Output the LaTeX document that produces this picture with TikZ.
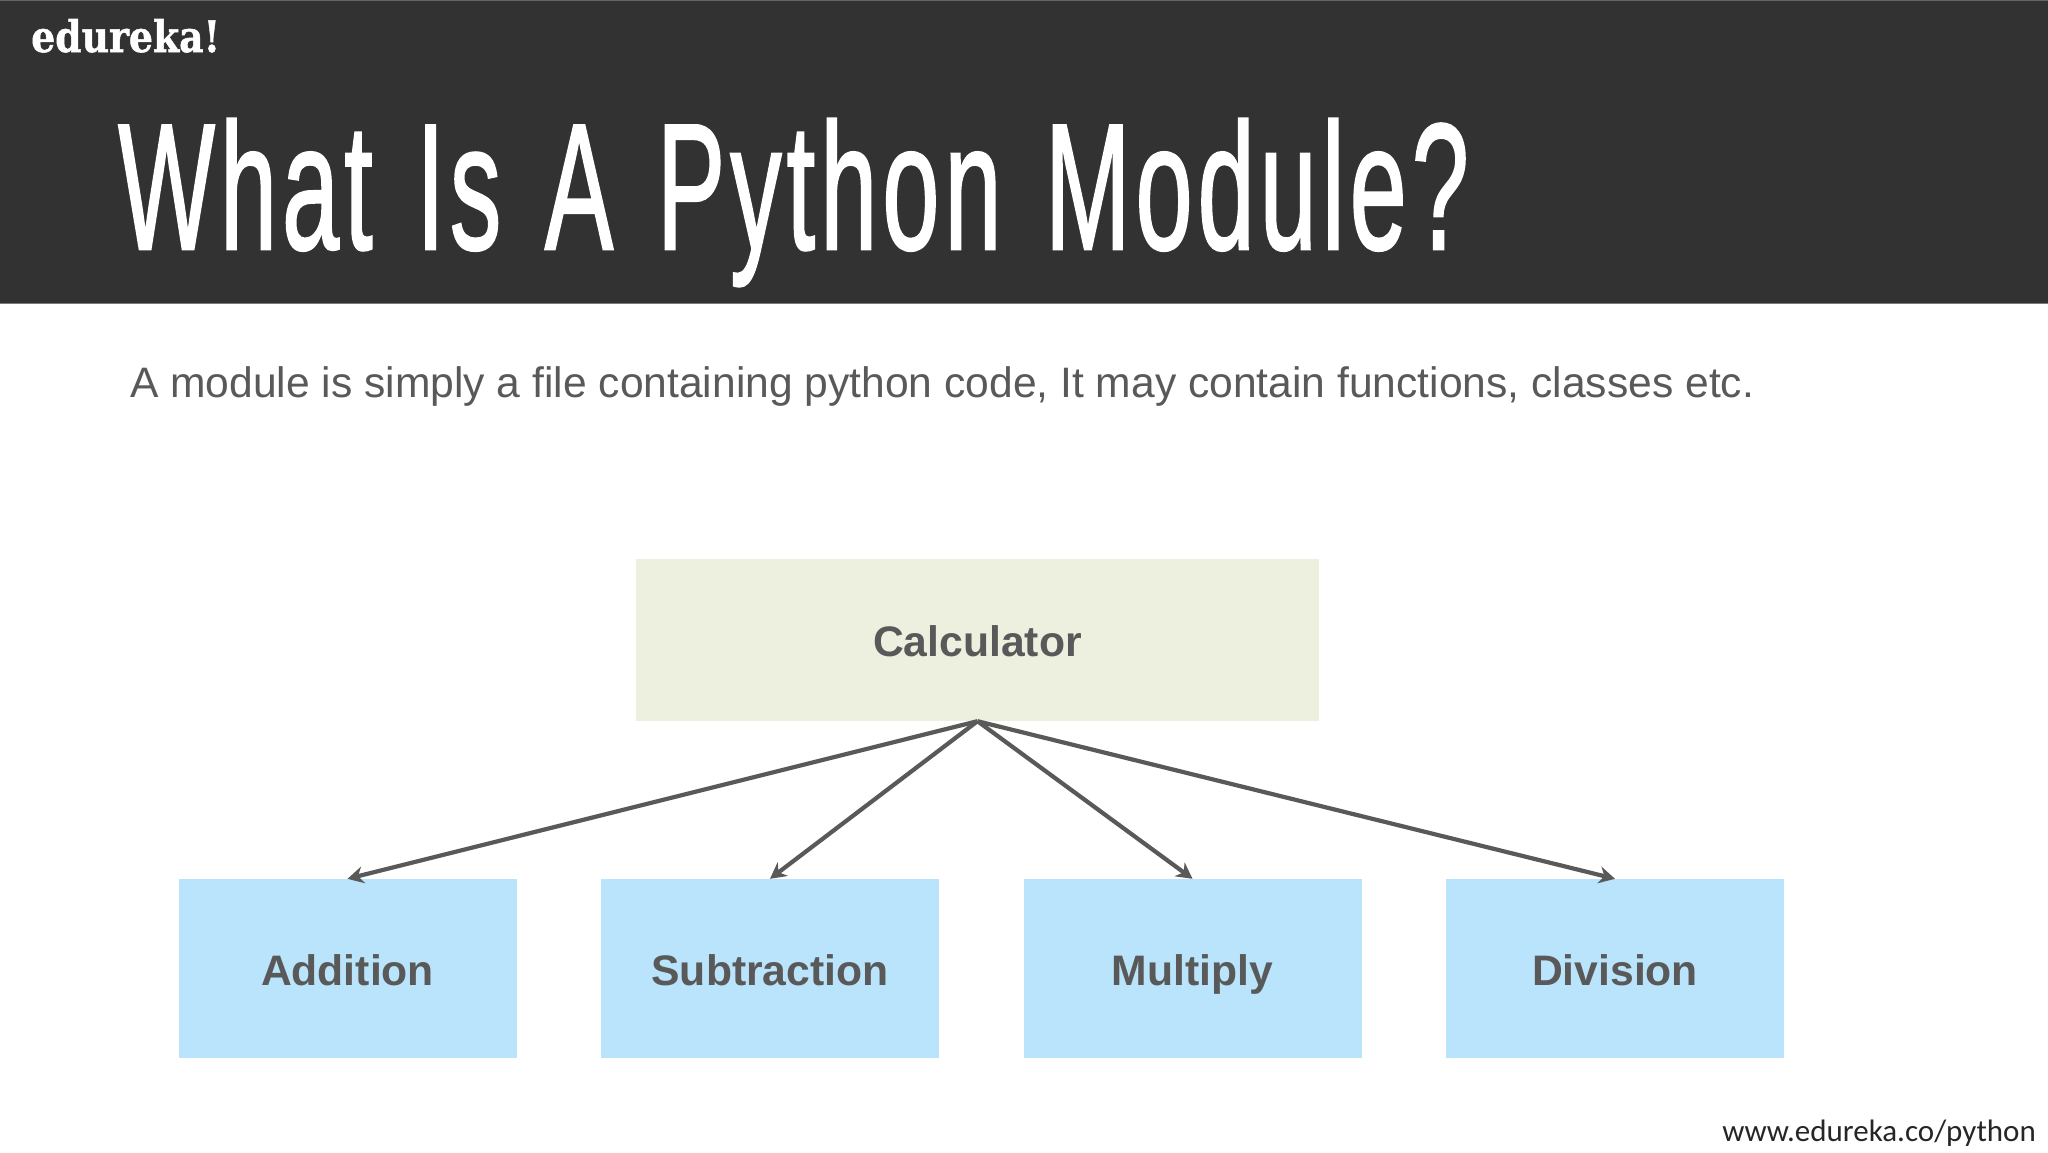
\documentclass[tikz,border=0pt]{standalone}
\usepackage{fontspec}
\usepackage{graphicx}
\setmainfont{Liberation Sans}
\newfontfamily\logofont[FakeBold=1.2]{DejaVu Serif}
\newfontfamily\urlfont{Carlito}
\newfontfamily\titlefont[LetterSpace=5,WordSpace=1.3,FakeBold=1.5]{Liberation Sans}
\usetikzlibrary{arrows.meta}
\definecolor{headbg}{HTML}{323232}
\definecolor{headedge}{HTML}{7A7A7A}
\definecolor{inktext}{HTML}{595959}
\definecolor{topfill}{HTML}{EDEFDF}
\definecolor{leaffill}{HTML}{BAE4FB}
\tikzset{
  x=1pt,y=-1pt,
  boxlabel/.style={inner sep=0pt,text=inktext,text height=40pt,text depth=7pt,font=\fontsize{42.67}{50}\selectfont\bfseries},
  topbox/.style={boxlabel,fill=topfill,minimum width=683pt,minimum height=162pt},
  leafbox/.style={boxlabel,fill=leaffill,minimum width=338pt,minimum height=179pt},
  link/.style={draw=inktext,line width=4.2pt,-{Stealth[length=16pt,width=17pt]}},
}
\begin{document}
\begin{tikzpicture}
\useasboundingbox (0,0) rectangle (2048,1152);
\fill[white] (0,0) rectangle (2048,1152);
\fill[headbg] (0,0) rectangle (2048,303);
\draw[headedge,line width=1.5pt] (0,303.5) -- (2048,303.5);
\draw[headedge!70!headbg,line width=1.5pt] (0,0.5) -- (2048,0.5);
\node[anchor=base west,inner sep=0pt,text=white] (logo) at (31,52)
  {\resizebox{189pt}{33pt}{\logofont\bfseries edureka!}};
\node[anchor=base west,inner sep=0pt,text=white] (title) at (118,249)
  {\resizebox{1350pt}{130pt}{\titlefont What Is A Python Module?}};
\node[anchor=base west,inner sep=0pt,text=inktext] (intro) at (130,397)
  {\resizebox{1624pt}{!}{\fontsize{42.67}{50}\selectfont A module is simply a file containing python code, It may contain functions, classes etc.}};
\node[topbox] (calc) at (977.5,640) {Calculator};
\node[leafbox] (add) at (347.5,968.5) {Addition};
\node[leafbox] (sub) at (770,968.5) {Subtraction};
\node[leafbox] (mul) at (1192.5,968.5) {Multiply};
\node[leafbox] (div) at (1615,968.5) {Division};
\draw[link] (calc.south) -- (add.north);
\draw[link] (calc.south) -- (sub.north);
\draw[link] (calc.south) -- (mul.north);
\draw[link] (calc.south) -- (div.north);
\node[anchor=base east,inner sep=0pt,text=black!85] (url) at (2036,1141)
  {\fontsize{31}{36}\selectfont\urlfont www.edureka.co/python};
\end{tikzpicture}
\end{document}
